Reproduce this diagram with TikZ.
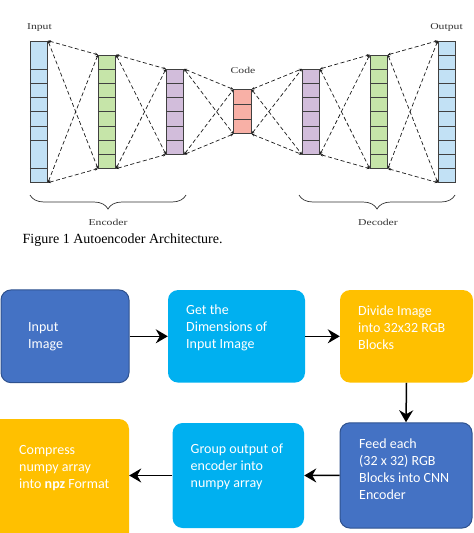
\documentclass[tikz,border=0pt]{standalone}
\usepackage{fontspec}
\setmainfont{Liberation Serif}
\newfontfamily\carlito{Carlito}
\usetikzlibrary{arrows.meta,calc,decorations.pathreplacing}
\definecolor{dkb}{HTML}{4472C4}
\definecolor{dkbb}{HTML}{2F528F}
\definecolor{ltb}{HTML}{00B0F0}
\definecolor{org}{HTML}{FFC000}
\definecolor{lay1}{HTML}{C2E1F5}
\definecolor{lay2}{HTML}{C6E5A9}
\definecolor{lay3}{HTML}{D2BDDB}
\definecolor{lay4}{HTML}{F8B0A6}
\newcommand\wlab[1]{\scalebox{1.3}[1]{#1}}
\begin{document}
\begin{tikzpicture}[x=1pt,y=-1pt,
  layer/.style={draw=black!75, line width=0.6pt, minimum width=17.5pt, inner sep=0pt, anchor=center},
  conn/.style={dash pattern=on 4pt off 2.5pt, line width=0.7pt, draw=black!90,
    arrows={Stealth[length=3pt,width=2.6pt]-Stealth[length=3pt,width=2.6pt]}},
  lab/.style={inner sep=0pt, text=black!80, font=\fontsize{9}{9}\selectfont},
  fbox/.style={rounded corners=10pt, inner sep=0pt, anchor=center},
  bdark/.style={fbox, fill=dkb, draw=dkbb, line width=1pt},
  blight/.style={fbox, fill=ltb},
  borange/.style={fbox, fill=org},
  txt/.style={anchor=west, inner sep=0pt, align=left, text=white, font=\carlito\fontsize{14}{17}\selectfont},
  flow/.style={line width=1.5pt, -{Stealth[length=12pt,width=14pt,inset=4pt]}},
  brc/.style={decorate, decoration={brace, mirror, amplitude=14pt}, line width=0.7pt, draw=black!80}
]
\useasboundingbox (0,0) rectangle (474,533);
\clip (0,0) rectangle (474,533);

% ---------- autoencoder layers ----------
\node[layer, fill=lay1, minimum height=141.3pt] (inp) at (38.9,111.7) {};
\node[layer, fill=lay2, minimum height=113.3pt] (g1) at (107,111.7) {};
\node[layer, fill=lay3, minimum height=85pt] (p1) at (175,111.7) {};
\node[layer, fill=lay4, minimum height=44pt] (code) at (242.5,111.7) {};
\node[layer, fill=lay3, minimum height=85pt] (p2) at (311,111.7) {};
\node[layer, fill=lay2, minimum height=113.3pt] (g2) at (378.8,111.7) {};
\node[layer, fill=lay1, minimum height=141.3pt] (out) at (446.8,111.7) {};

% cell divisions
\foreach \i in {2,3,4,5,6,7,9}
  \draw[black!75, line width=0.6pt] ($(inp.north west)!\i/10!(inp.south west)$) -- ($(inp.north east)!\i/10!(inp.south east)$);
\foreach \i in {1,...,9}
  \draw[black!75, line width=0.6pt] ($(out.north west)!\i/10!(out.south west)$) -- ($(out.north east)!\i/10!(out.south east)$);
\foreach \n in {g1,g2}
  \foreach \i in {1,...,7}
    \draw[black!75, line width=0.6pt] ($(\n.north west)!\i/8!(\n.south west)$) -- ($(\n.north east)!\i/8!(\n.south east)$);
\foreach \n in {p1,p2}
  \foreach \i in {1,...,5}
    \draw[black!75, line width=0.6pt] ($(\n.north west)!\i/6!(\n.south west)$) -- ($(\n.north east)!\i/6!(\n.south east)$);
\foreach \i in {1,2}
  \draw[black!75, line width=0.6pt] ($(code.north west)!\i/3!(code.south west)$) -- ($(code.north east)!\i/3!(code.south east)$);

% dashed connections
\foreach \a/\b in {inp/g1, g1/p1, p1/code, code/p2, p2/g2, g2/out} {
  \draw[conn] (\a.north east) -- (\b.north west);
  \draw[conn] (\a.north east) -- (\b.south west);
  \draw[conn] (\a.south east) -- (\b.north west);
  \draw[conn] (\a.south east) -- (\b.south west);
}

% labels
\node[lab] (linp) at (39.5,27.5) {\wlab{Input}};
\node[lab] (lcode) at (243,70) {\wlab{Code}};
\node[lab] (lout) at (446.5,27.5) {\wlab{Output}};

% braces
\coordinate (e1) at (30,195);
\coordinate (e2) at (186,195);
\coordinate (d1) at (299,195);
\coordinate (d2) at (455,195);
\draw[brc] (e1) -- (e2);
\draw[brc] (d1) -- (d2);
\node[lab] (lenc) at (108,222.5) {\wlab{Encoder}};
\node[lab] (ldec) at (378,222.5) {\wlab{Decoder}};

\node[anchor=west, inner sep=0pt, font=\fontsize{14}{14}\selectfont] (cap) at (22.5,240) {Figure 1 Autoencoder Architecture.};

% ---------- flowchart ----------
\node[bdark, minimum width=128pt, minimum height=92.7pt] (b1) at (65,336.3) {};
\node[blight, minimum width=137pt, minimum height=92.5pt] (b2) at (236.5,336.3) {};
\node[borange, minimum width=133pt, minimum height=92.5pt] (b3) at (406.5,336.3) {};
\node[bdark, minimum width=132pt, minimum height=105.3pt] (b4) at (406,475.4) {};
\node[blight, minimum width=131.5pt, minimum height=105pt] (b5) at (238.3,475.5) {};
\node[borange, minimum width=149pt, minimum height=131pt] (b6) at (54.5,484.5) {};

\node[txt] (t1) at (28,337) {Input\\Image};
\node[txt] (t2) at (186,327.6) {Get the\\Dimensions of\\Input Image};
\node[txt] (t3) at (358,327.3) {Divide Image\\into 32x32 RGB\\Blocks};
\node[txt] (t4) at (359,468.7) {Feed each\\(32 x 32) RGB\\Blocks into CNN\\Encoder};
\node[txt] (t5) at (190.5,467) {Group output of\\encoder into\\numpy array};
\node[txt] (t6) at (19,468.3) {Compress\\numpy array\\into \textbf{npz} Format};

\draw[flow] (b1.east) -- (b2.west);
\draw[flow] (b2.east) -- (b3.west);
\draw[flow] (b3.south) -- (b4.north);
\draw[flow] (b4.west) -- (b5.east);
\draw[flow] (b5.west) -- (b5.west -| b6.east);
\end{tikzpicture}
\end{document}
